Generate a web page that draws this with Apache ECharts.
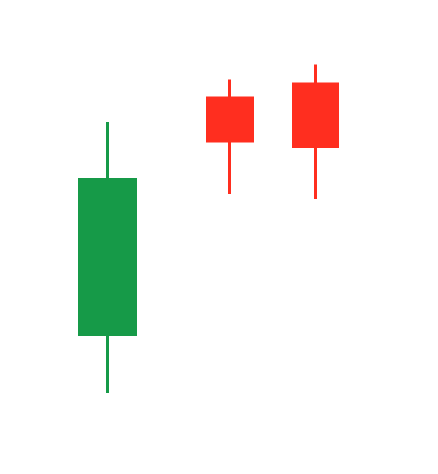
<!DOCTYPE html>
<html>
<head>
<meta charset="utf-8">
<script src="https://cdn.jsdelivr.net/npm/echarts@6/dist/echarts.min.js"></script>
<style>
html,body{margin:0;padding:0;background:#fff;}
#chart{width:438px;height:474px;}
</style>
</head>
<body>
<div id="chart"></div>
<script>
const categories = ['1','2','3','4','5','6','7','8','9','10','11','12','13','14','15','16','17','18','19','20','21','22','23','24','25','26'];
const candleIndex = [4, 14, 21];
const opens  = [46.1, 53.8, 52.7];
const closes = [15.1, 62.4, 65.2];
const lows   = [3.4, 43.2, 42.2];
const highs  = [57.6, 66.1, 69.1];

function buildSeriesData(which) {
  const arr = categories.map(() => '-');
  which.forEach(k => {
    arr[candleIndex[k]] = [opens[k], closes[k], lows[k], highs[k]];
  });
  return arr;
}

const chart = echarts.init(document.getElementById('chart'));
const style = {
  color: '#FF2E1F', color0: '#169A48',
  borderColor: '#FF2E1F', borderColor0: '#169A48',
  borderWidth: 3
};
chart.setOption({
  animation: false,
  backgroundColor: '#fff',
  grid: { left: 52.5, width: 318.1, top: 60, height: 350 },
  xAxis: {
    type: 'category', data: categories,
    axisLine: { show: false }, axisTick: { show: false }, axisLabel: { show: false }, splitLine: { show: false }
  },
  yAxis: {
    type: 'value', min: 0, max: 70,
    axisLine: { show: false }, axisTick: { show: false }, axisLabel: { show: false }, splitLine: { show: false }
  },
  series: [
    { type: 'candlestick', barWidth: 56, clip: false, itemStyle: style, data: buildSeriesData([0]) },
    { type: 'candlestick', barWidth: 45, clip: false, itemStyle: style, data: buildSeriesData([1, 2]) }
  ]
});
</script>
</body>
</html>
